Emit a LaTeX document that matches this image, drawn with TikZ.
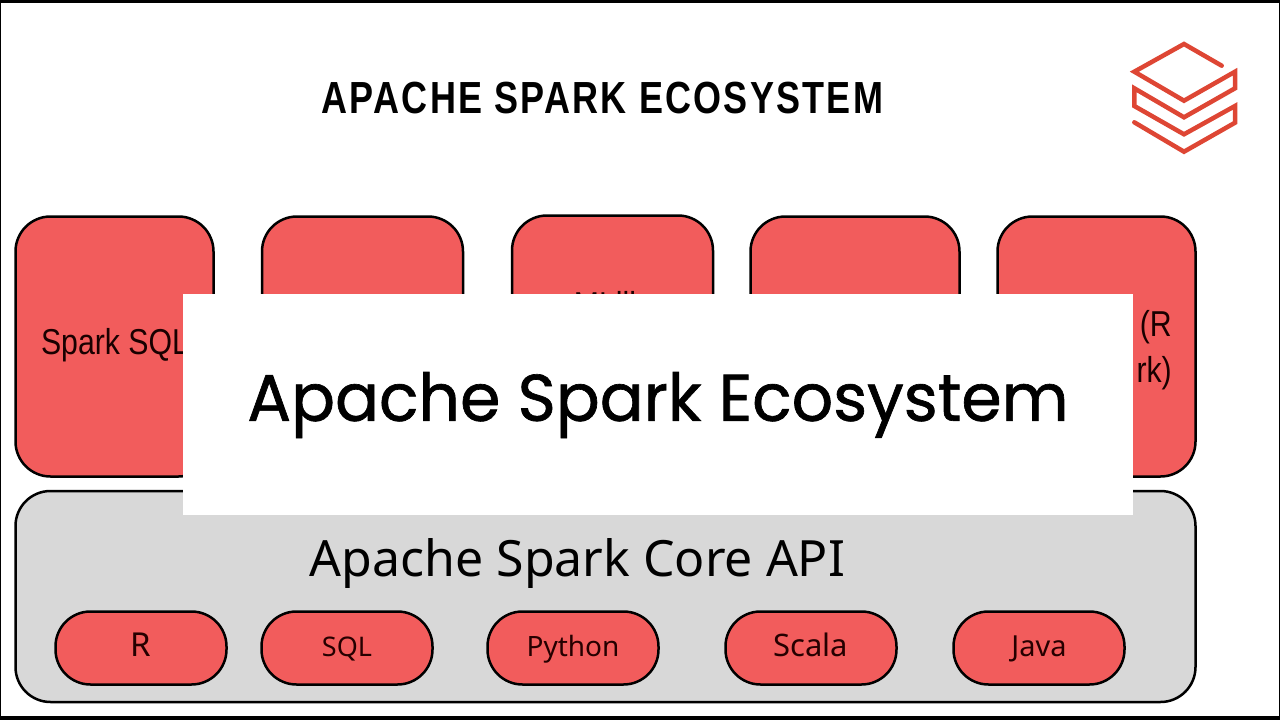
\documentclass[tikz,border=0pt]{standalone}
\usepackage{fontspec}
\usepackage{tikz}
\newfontfamily\titlefont[LetterSpace=5,FakeStretch=0.8]{Liberation Sans}
\newfontfamily\panelfont[FakeBold=1,FakeStretch=0.985]{Poppins}
\newfontfamily\corefont{Noto Sans}
\newfontfamily\boxfont[FakeStretch=0.84]{Liberation Sans}
\definecolor{sparkred}{RGB}{242,92,92}
\definecolor{coregray}{RGB}{216,216,216}
\definecolor{logored}{RGB}{222,70,52}
\tikzset{
    modulebox/.style={draw=black,line width=2.5pt,fill=sparkred,rounded corners=35pt,inner sep=0pt},
    modulelabel/.style={inner sep=0pt,text=black!90!red,font=\boxfont\fontsize{36}{40}\selectfont},
    langbox/.style={draw=black,line width=2.5pt,fill=sparkred,rounded corners=35pt,inner sep=0pt,minimum width=171pt,minimum height=73pt,text height=21pt,text depth=5pt,text=black!85!red},
}
\begin{document}
\begin{tikzpicture}[x=1pt,y=-1pt,cap=round]
    \useasboundingbox (0,0) rectangle (1280,720);
    % draw the frame
    \fill[black] (0,0) rectangle (1280,3);
    \fill[black] (0,716) rectangle (1280,720);
    \fill[black] (0,0) rectangle (1,720);
    \fill[black] (1279,0) rectangle (1280,720);

    \node[font=\titlefont\bfseries\fontsize{45}{50}\selectfont] (title) at (602.5,98) {APACHE SPARK ECOSYSTEM};

    % draw the logo
    \draw[logored,line width=4.5pt,line join=miter] (1221.7,65.7) -- (1184,44) -- (1134.3,71.7) -- (1184,100.7) -- (1235,71.7) -- (1235,88.3) -- (1184,117.3) -- (1134.3,88.3) -- (1134.3,106) -- (1184,134.3) -- (1235,106) -- (1235,122.7) -- (1184,151.7) -- (1134.3,122.3);

    % draw the module boxes
    \foreach \name/\x/\y/\w/\h in {sqlbox/114.5/346.5/198/260,streambox/362.5/346.5/201/260,mlbox/612.5/346/201/261,graphbox/855/346.5/209/260,rbox/1096.5/346.5/198/260} {
        \node[modulebox,minimum width=\w pt,minimum height=\h pt] (\name) at (\x,\y) {};
    }
    \node[modulelabel] (sqllabel) at (115,345) {Spark SQL};
    \node[modulelabel] (mllabel) at (610,305) {MLlib};
    \node[modulelabel,anchor=east] (rlabela) at (1172,327) {(R};
    \node[modulelabel,anchor=east] (rlabelb) at (1172,373) {rk)};

    % draw the core panel
    \node[draw=black,line width=2.5pt,fill=coregray,rounded corners=35pt,minimum width=1180pt,minimum height=211pt] (corebox) at (605.5,596.5) {};

    % the white panel on top
    \fill[white] (183,294) rectangle (1133,515);
    \node[font=\panelfont\fontsize{66}{72}\selectfont] (panel) at (658,405) {Apache Spark Ecosystem};

    \node[font=\corefont\fontsize{50}{54}\selectfont] (corelabel) at (577.5,563) {Apache Spark Core API};

    % draw the languages
    \foreach \name/\x/\lang/\size in {rlang/141/R/33,sqllang/347/SQL/27,pylang/573/Python/28,scalang/811/Scala/31,javalang/1039/Java/29} {
        \node[langbox,font=\corefont\fontsize{\size}{34}\selectfont] (\name) at (\x,648) {\lang};
    }
\end{tikzpicture}
\end{document}
